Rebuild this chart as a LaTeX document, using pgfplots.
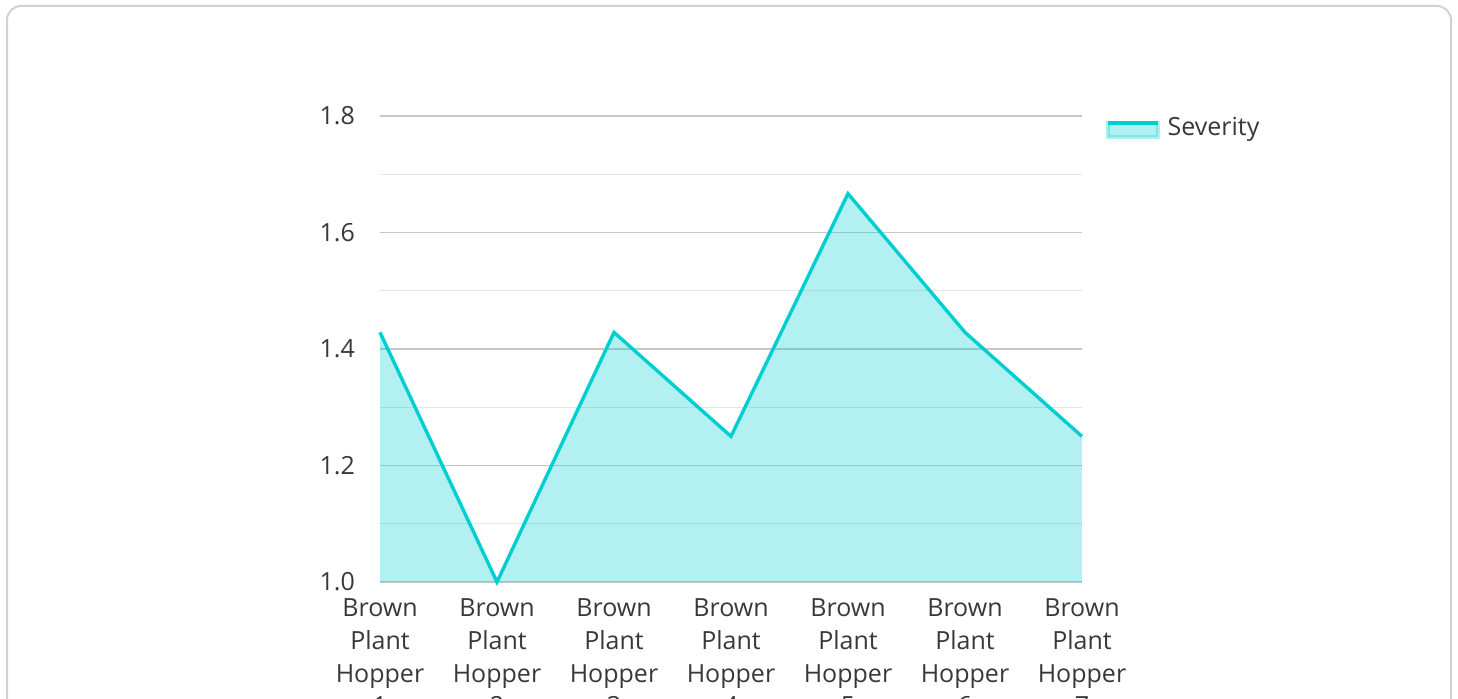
\documentclass[border=0pt]{standalone}
\usepackage{fontspec}
\setmainfont{Open Sans}
\usepackage{pgfplots}
\pgfplotsset{compat=1.18}
\definecolor{sev}{HTML}{00CED1}
\definecolor{txt}{HTML}{383838}
\definecolor{frame}{HTML}{D2D2D2}
\begin{document}
\begin{tikzpicture}
\path[use as bounding box] (0,0) rectangle (729pt,349pt);
\clip (0,0) rectangle (729pt,349pt);
\draw[rounded corners=7pt, line width=1pt, frame] (3.5pt,-20pt) rectangle (725.5pt,346pt);
\begin{axis}[
    at={(190pt,58pt)}, anchor=south west,
    scale only axis, width=351pt, height=233pt,
    xmin=0, xmax=6, ymin=1, ymax=1.8,
    clip=false,
    axis line style={draw=none},
    tick style={draw=none},
    ytick={1.0,1.2,1.4,1.6,1.8},
    minor ytick={1.1,1.3,1.5,1.7},
    ymajorgrids, yminorgrids,
    major grid style={color=black!22, line width=0.6pt},
    minor grid style={color=black!10, line width=0.6pt},
    yticklabel style={font=\fontsize{12.5}{15}\selectfont, text=txt, xshift=-9pt},
    /pgf/number format/.cd, fixed, fixed zerofill, precision=1, assume math mode=true,
    /pgfplots/.cd,
    xtick={0,...,6},
    xticklabels={{Brown\\Plant\\Hopper\\1},{Brown\\Plant\\Hopper\\2},{Brown\\Plant\\Hopper\\3},{Brown\\Plant\\Hopper\\4},{Brown\\Plant\\Hopper\\5},{Brown\\Plant\\Hopper\\6},{Brown\\Plant\\Hopper\\7}},
    xticklabel style={align=center, font=\fontsize{12.5}{16.3}\selectfont, text=txt, yshift=-5pt},
    legend style={at={(1.034,0.974)}, anchor=west, draw=none, fill=none,
      inner sep=0pt, font=\fontsize{12.5}{15}\selectfont, text=txt,
      nodes={inner sep=2pt}},
    legend cell align=left,
  ]
\addplot[draw=none, fill=sev, fill opacity=0.3, forget plot]
  coordinates {(0,1.4286) (1,1.0) (2,1.4286) (3,1.25) (4,1.6667) (5,1.4286) (6,1.25)} \closedcycle;
\addplot[sev, line width=1.7pt, mark=none,
  legend image code/.code={
    \fill[sev, opacity=0.3] (0pt,-4.5pt) rectangle (25pt,2.5pt);
    \draw[sev, line width=1.7pt] (0pt,2.5pt) -- (25pt,2.5pt);}]
  coordinates {(0,1.4286) (1,1.0) (2,1.4286) (3,1.25) (4,1.6667) (5,1.4286) (6,1.25)};
\legend{\hspace{2pt}Severity}
\end{axis}
\end{tikzpicture}
\end{document}
